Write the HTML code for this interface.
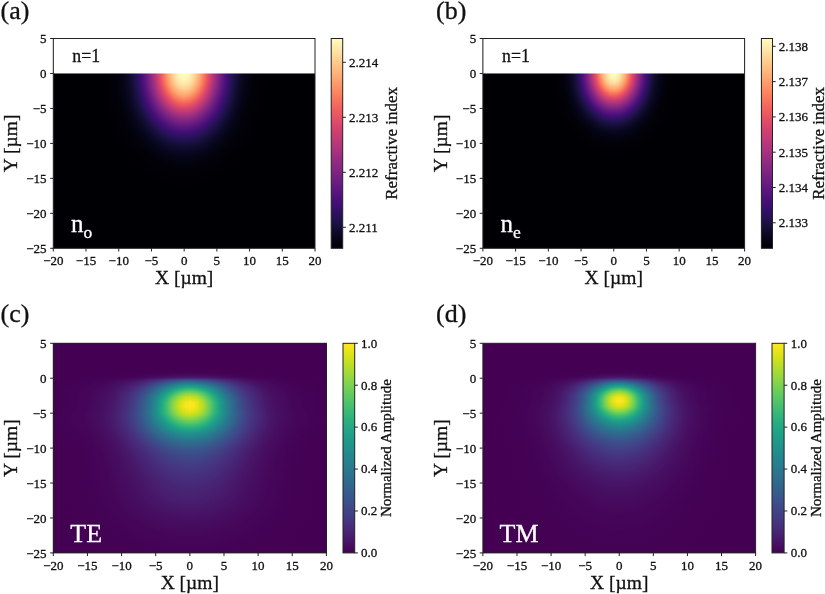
<!DOCTYPE html>
<html lang="en"><head><meta charset="utf-8"><title>Waveguide refractive index and mode profiles</title>
<style>html,body{margin:0;padding:0;background:#fff}svg{display:block}text{font-family:"Liberation Serif", "DejaVu Serif", serif;fill:#111;stroke:#111;stroke-width:.3px}</style></head><body>
<svg width="825" height="594" viewBox="0 0 825 594">
<rect width="825" height="594" fill="#fff"/>
<defs>
<filter id="vir" x="0" y="0" width="1" height="1" color-interpolation-filters="sRGB"><feComponentTransfer><feFuncR type="table" tableValues="0.2670 0.2726 0.2770 0.2803 0.2823 0.2832 0.2829 0.2814 0.2788 0.2752 0.2706 0.2651 0.2590 0.2522 0.2450 0.2374 0.2297 0.2220 0.2143 0.2068 0.1994 0.1924 0.1856 0.1790 0.1727 0.1666 0.1607 0.1548 0.1490 0.1433 0.1378 0.1324 0.1276 0.1235 0.1206 0.1194 0.1206 0.1248 0.1323 0.1433 0.1579 0.1757 0.1966 0.2201 0.2461 0.2741 0.3041 0.3359 0.3692 0.4040 0.4401 0.4775 0.5160 0.5555 0.5958 0.6369 0.6785 0.7204 0.7624 0.8042 0.8456 0.8863 0.9261 0.9649 0.9932"/><feFuncG type="table" tableValues="0.0049 0.0256 0.0503 0.0734 0.0950 0.1157 0.1359 0.1558 0.1755 0.1949 0.2141 0.2330 0.2515 0.2698 0.2877 0.3052 0.3224 0.3392 0.3556 0.3718 0.3876 0.4032 0.4186 0.4338 0.4488 0.4637 0.4785 0.4933 0.5081 0.5228 0.5375 0.5522 0.5669 0.5817 0.5964 0.6111 0.6258 0.6405 0.6550 0.6695 0.6838 0.6979 0.7118 0.7255 0.7389 0.7520 0.7647 0.7770 0.7889 0.8003 0.8111 0.8214 0.8312 0.8403 0.8487 0.8565 0.8637 0.8703 0.8764 0.8820 0.8873 0.8924 0.8973 0.9023 0.9062"/><feFuncB type="table" tableValues="0.3294 0.3531 0.3757 0.3972 0.4173 0.4361 0.4534 0.4692 0.4834 0.4960 0.5071 0.5166 0.5247 0.5316 0.5373 0.5419 0.5457 0.5488 0.5512 0.5531 0.5546 0.5558 0.5568 0.5574 0.5579 0.5581 0.5581 0.5578 0.5573 0.5563 0.5549 0.5530 0.5506 0.5474 0.5436 0.5390 0.5335 0.5271 0.5197 0.5112 0.5017 0.4910 0.4792 0.4662 0.4520 0.4366 0.4199 0.4020 0.3829 0.3626 0.3410 0.3182 0.2943 0.2693 0.2433 0.2166 0.1895 0.1626 0.1371 0.1150 0.0997 0.0954 0.1041 0.1239 0.1439"/></feComponentTransfer></filter>
<linearGradient id="pg" x1="0" x2="1" y1="0" y2="0"><stop offset="0.0000" stop-color="#000000"/><stop offset="0.0114" stop-color="#000000"/><stop offset="0.0227" stop-color="#000000"/><stop offset="0.0341" stop-color="#000000"/><stop offset="0.0455" stop-color="#000000"/><stop offset="0.0568" stop-color="#000000"/><stop offset="0.0682" stop-color="#000000"/><stop offset="0.0795" stop-color="#000000"/><stop offset="0.0909" stop-color="#010101"/><stop offset="0.1023" stop-color="#010101"/><stop offset="0.1136" stop-color="#010101"/><stop offset="0.1250" stop-color="#010101"/><stop offset="0.1364" stop-color="#010101"/><stop offset="0.1477" stop-color="#020202"/><stop offset="0.1591" stop-color="#020202"/><stop offset="0.1705" stop-color="#020202"/><stop offset="0.1818" stop-color="#030303"/><stop offset="0.1932" stop-color="#040404"/><stop offset="0.2045" stop-color="#040404"/><stop offset="0.2159" stop-color="#050505"/><stop offset="0.2273" stop-color="#070707"/><stop offset="0.2386" stop-color="#080808"/><stop offset="0.2500" stop-color="#0a0a0a"/><stop offset="0.2614" stop-color="#0c0c0c"/><stop offset="0.2727" stop-color="#0f0f0f"/><stop offset="0.2841" stop-color="#121212"/><stop offset="0.2955" stop-color="#171717"/><stop offset="0.3068" stop-color="#1c1c1c"/><stop offset="0.3182" stop-color="#222222"/><stop offset="0.3295" stop-color="#292929"/><stop offset="0.3409" stop-color="#313131"/><stop offset="0.3523" stop-color="#3b3b3b"/><stop offset="0.3636" stop-color="#474747"/><stop offset="0.3750" stop-color="#545454"/><stop offset="0.3864" stop-color="#646464"/><stop offset="0.3977" stop-color="#757575"/><stop offset="0.4091" stop-color="#888888"/><stop offset="0.4205" stop-color="#9c9c9c"/><stop offset="0.4318" stop-color="#b0b0b0"/><stop offset="0.4432" stop-color="#c4c4c4"/><stop offset="0.4545" stop-color="#d7d7d7"/><stop offset="0.4659" stop-color="#e7e7e7"/><stop offset="0.4773" stop-color="#f4f4f4"/><stop offset="0.4886" stop-color="#fcfcfc"/><stop offset="0.5000" stop-color="#ffffff"/><stop offset="0.5114" stop-color="#fcfcfc"/><stop offset="0.5227" stop-color="#f4f4f4"/><stop offset="0.5341" stop-color="#e7e7e7"/><stop offset="0.5455" stop-color="#d7d7d7"/><stop offset="0.5568" stop-color="#c4c4c4"/><stop offset="0.5682" stop-color="#b0b0b0"/><stop offset="0.5795" stop-color="#9c9c9c"/><stop offset="0.5909" stop-color="#888888"/><stop offset="0.6023" stop-color="#757575"/><stop offset="0.6136" stop-color="#646464"/><stop offset="0.6250" stop-color="#545454"/><stop offset="0.6364" stop-color="#474747"/><stop offset="0.6477" stop-color="#3b3b3b"/><stop offset="0.6591" stop-color="#313131"/><stop offset="0.6705" stop-color="#292929"/><stop offset="0.6818" stop-color="#222222"/><stop offset="0.6932" stop-color="#1c1c1c"/><stop offset="0.7045" stop-color="#171717"/><stop offset="0.7159" stop-color="#121212"/><stop offset="0.7273" stop-color="#0f0f0f"/><stop offset="0.7386" stop-color="#0c0c0c"/><stop offset="0.7500" stop-color="#0a0a0a"/><stop offset="0.7614" stop-color="#080808"/><stop offset="0.7727" stop-color="#070707"/><stop offset="0.7841" stop-color="#050505"/><stop offset="0.7955" stop-color="#040404"/><stop offset="0.8068" stop-color="#040404"/><stop offset="0.8182" stop-color="#030303"/><stop offset="0.8295" stop-color="#020202"/><stop offset="0.8409" stop-color="#020202"/><stop offset="0.8523" stop-color="#020202"/><stop offset="0.8636" stop-color="#010101"/><stop offset="0.8750" stop-color="#010101"/><stop offset="0.8864" stop-color="#010101"/><stop offset="0.8977" stop-color="#010101"/><stop offset="0.9091" stop-color="#010101"/><stop offset="0.9205" stop-color="#000000"/><stop offset="0.9318" stop-color="#000000"/><stop offset="0.9432" stop-color="#000000"/><stop offset="0.9545" stop-color="#000000"/><stop offset="0.9659" stop-color="#000000"/><stop offset="0.9773" stop-color="#000000"/><stop offset="0.9886" stop-color="#000000"/><stop offset="1.0000" stop-color="#000000"/></linearGradient>
<linearGradient id="pq" x1="0" x2="1" y1="0" y2="0"><stop offset="0.0000" stop-color="#000000"/><stop offset="0.0167" stop-color="#000000"/><stop offset="0.0333" stop-color="#010101"/><stop offset="0.0500" stop-color="#010101"/><stop offset="0.0667" stop-color="#020202"/><stop offset="0.0833" stop-color="#020202"/><stop offset="0.1000" stop-color="#030303"/><stop offset="0.1167" stop-color="#050505"/><stop offset="0.1333" stop-color="#070707"/><stop offset="0.1500" stop-color="#090909"/><stop offset="0.1667" stop-color="#0d0d0d"/><stop offset="0.1833" stop-color="#111111"/><stop offset="0.2000" stop-color="#161616"/><stop offset="0.2167" stop-color="#1d1d1d"/><stop offset="0.2333" stop-color="#252525"/><stop offset="0.2500" stop-color="#2f2f2f"/><stop offset="0.2667" stop-color="#3b3b3b"/><stop offset="0.2833" stop-color="#484848"/><stop offset="0.3000" stop-color="#565656"/><stop offset="0.3167" stop-color="#676767"/><stop offset="0.3333" stop-color="#787878"/><stop offset="0.3500" stop-color="#8b8b8b"/><stop offset="0.3667" stop-color="#9e9e9e"/><stop offset="0.3833" stop-color="#b0b0b0"/><stop offset="0.4000" stop-color="#c3c3c3"/><stop offset="0.4167" stop-color="#d3d3d3"/><stop offset="0.4333" stop-color="#e2e2e2"/><stop offset="0.4500" stop-color="#eeeeee"/><stop offset="0.4667" stop-color="#f7f7f7"/><stop offset="0.4833" stop-color="#fdfdfd"/><stop offset="0.5000" stop-color="#ffffff"/><stop offset="0.5167" stop-color="#fdfdfd"/><stop offset="0.5333" stop-color="#f7f7f7"/><stop offset="0.5500" stop-color="#eeeeee"/><stop offset="0.5667" stop-color="#e2e2e2"/><stop offset="0.5833" stop-color="#d3d3d3"/><stop offset="0.6000" stop-color="#c3c3c3"/><stop offset="0.6167" stop-color="#b0b0b0"/><stop offset="0.6333" stop-color="#9e9e9e"/><stop offset="0.6500" stop-color="#8b8b8b"/><stop offset="0.6667" stop-color="#787878"/><stop offset="0.6833" stop-color="#676767"/><stop offset="0.7000" stop-color="#565656"/><stop offset="0.7167" stop-color="#484848"/><stop offset="0.7333" stop-color="#3b3b3b"/><stop offset="0.7500" stop-color="#2f2f2f"/><stop offset="0.7667" stop-color="#252525"/><stop offset="0.7833" stop-color="#1d1d1d"/><stop offset="0.8000" stop-color="#161616"/><stop offset="0.8167" stop-color="#111111"/><stop offset="0.8333" stop-color="#0d0d0d"/><stop offset="0.8500" stop-color="#090909"/><stop offset="0.8667" stop-color="#070707"/><stop offset="0.8833" stop-color="#050505"/><stop offset="0.9000" stop-color="#030303"/><stop offset="0.9167" stop-color="#020202"/><stop offset="0.9333" stop-color="#020202"/><stop offset="0.9500" stop-color="#010101"/><stop offset="0.9667" stop-color="#010101"/><stop offset="0.9833" stop-color="#000000"/><stop offset="1.0000" stop-color="#000000"/></linearGradient>
<linearGradient id="cbm" x1="0" x2="0" y1="0" y2="1"><stop offset="0.0000" stop-color="#fcfdbf"/><stop offset="0.0312" stop-color="#fcf0b2"/><stop offset="0.0625" stop-color="#fde2a3"/><stop offset="0.0938" stop-color="#fed395"/><stop offset="0.1250" stop-color="#fec488"/><stop offset="0.1562" stop-color="#feb67c"/><stop offset="0.1875" stop-color="#fea772"/><stop offset="0.2188" stop-color="#fd9869"/><stop offset="0.2500" stop-color="#fc8961"/><stop offset="0.2812" stop-color="#f9795d"/><stop offset="0.3125" stop-color="#f56b5c"/><stop offset="0.3438" stop-color="#ef5d5e"/><stop offset="0.3750" stop-color="#e75263"/><stop offset="0.4062" stop-color="#dc4869"/><stop offset="0.4375" stop-color="#d0416f"/><stop offset="0.4688" stop-color="#c43c75"/><stop offset="0.5000" stop-color="#b73779"/><stop offset="0.5312" stop-color="#aa337d"/><stop offset="0.5625" stop-color="#9c2e7f"/><stop offset="0.5938" stop-color="#902a81"/><stop offset="0.6250" stop-color="#832681"/><stop offset="0.6562" stop-color="#762181"/><stop offset="0.6875" stop-color="#6a1c81"/><stop offset="0.7188" stop-color="#5d177f"/><stop offset="0.7500" stop-color="#51127c"/><stop offset="0.7812" stop-color="#440f76"/><stop offset="0.8125" stop-color="#36106b"/><stop offset="0.8438" stop-color="#29115a"/><stop offset="0.8750" stop-color="#1d1147"/><stop offset="0.9062" stop-color="#130d34"/><stop offset="0.9375" stop-color="#0a0822"/><stop offset="0.9688" stop-color="#030312"/><stop offset="1.0000" stop-color="#000004"/></linearGradient>
<linearGradient id="cbv" x1="0" x2="0" y1="0" y2="1"><stop offset="0.0000" stop-color="#fde725"/><stop offset="0.0312" stop-color="#ece51b"/><stop offset="0.0625" stop-color="#d8e219"/><stop offset="0.0938" stop-color="#c2df23"/><stop offset="0.1250" stop-color="#addc30"/><stop offset="0.1562" stop-color="#98d83e"/><stop offset="0.1875" stop-color="#84d44b"/><stop offset="0.2188" stop-color="#70cf57"/><stop offset="0.2500" stop-color="#5ec962"/><stop offset="0.2812" stop-color="#4ec36b"/><stop offset="0.3125" stop-color="#3fbc73"/><stop offset="0.3438" stop-color="#32b67a"/><stop offset="0.3750" stop-color="#28ae80"/><stop offset="0.4062" stop-color="#22a785"/><stop offset="0.4375" stop-color="#1fa088"/><stop offset="0.4688" stop-color="#1f988b"/><stop offset="0.5000" stop-color="#21918c"/><stop offset="0.5312" stop-color="#23898e"/><stop offset="0.5625" stop-color="#26828e"/><stop offset="0.5938" stop-color="#297a8e"/><stop offset="0.6250" stop-color="#2c728e"/><stop offset="0.6562" stop-color="#2f6b8e"/><stop offset="0.6875" stop-color="#33638d"/><stop offset="0.7188" stop-color="#375b8d"/><stop offset="0.7500" stop-color="#3b528b"/><stop offset="0.7812" stop-color="#3e4989"/><stop offset="0.8125" stop-color="#424086"/><stop offset="0.8438" stop-color="#453781"/><stop offset="0.8750" stop-color="#472d7b"/><stop offset="0.9062" stop-color="#482374"/><stop offset="0.9375" stop-color="#48186a"/><stop offset="0.9688" stop-color="#470d60"/><stop offset="1.0000" stop-color="#440154"/></linearGradient>
<radialGradient id="ra" cx="0" cy="0" r="1" gradientUnits="userSpaceOnUse"><stop offset="0.0000" stop-color="#fcfdbf"/><stop offset="0.0250" stop-color="#fcfbbd"/><stop offset="0.0500" stop-color="#fcf6b8"/><stop offset="0.0750" stop-color="#fcecae"/><stop offset="0.1000" stop-color="#fde0a1"/><stop offset="0.1250" stop-color="#fecf92"/><stop offset="0.1500" stop-color="#febb81"/><stop offset="0.1750" stop-color="#fea772"/><stop offset="0.2000" stop-color="#fc8e64"/><stop offset="0.2250" stop-color="#f8745c"/><stop offset="0.2500" stop-color="#ee5b5e"/><stop offset="0.2750" stop-color="#de4968"/><stop offset="0.3000" stop-color="#c83e73"/><stop offset="0.3250" stop-color="#b2357b"/><stop offset="0.3500" stop-color="#9b2e7f"/><stop offset="0.3750" stop-color="#862781"/><stop offset="0.4000" stop-color="#732081"/><stop offset="0.4250" stop-color="#621980"/><stop offset="0.4500" stop-color="#52137c"/><stop offset="0.4750" stop-color="#420f75"/><stop offset="0.5000" stop-color="#341069"/><stop offset="0.5250" stop-color="#271258"/><stop offset="0.5500" stop-color="#1e1149"/><stop offset="0.5750" stop-color="#160f3b"/><stop offset="0.6000" stop-color="#110c2f"/><stop offset="0.6250" stop-color="#0c0926"/><stop offset="0.6500" stop-color="#08071e"/><stop offset="0.6750" stop-color="#060518"/><stop offset="0.7000" stop-color="#040414"/><stop offset="0.7250" stop-color="#03030f"/><stop offset="0.7500" stop-color="#02020b"/><stop offset="0.7750" stop-color="#020109"/><stop offset="0.8000" stop-color="#010108"/><stop offset="0.8250" stop-color="#010106"/><stop offset="0.8500" stop-color="#010005"/><stop offset="0.8750" stop-color="#010005"/><stop offset="0.9000" stop-color="#010005"/><stop offset="0.9250" stop-color="#000004"/><stop offset="0.9500" stop-color="#000004"/><stop offset="0.9750" stop-color="#000004"/><stop offset="1.0000" stop-color="#000004"/></radialGradient>
<radialGradient id="rb" cx="0" cy="0" r="1" gradientUnits="userSpaceOnUse"><stop offset="0.0000" stop-color="#fcfdbf"/><stop offset="0.0250" stop-color="#fcfbbd"/><stop offset="0.0500" stop-color="#fcf6b8"/><stop offset="0.0750" stop-color="#fcecae"/><stop offset="0.1000" stop-color="#fde0a1"/><stop offset="0.1250" stop-color="#fecf92"/><stop offset="0.1500" stop-color="#febb81"/><stop offset="0.1750" stop-color="#fea772"/><stop offset="0.2000" stop-color="#fc8e64"/><stop offset="0.2250" stop-color="#f8745c"/><stop offset="0.2500" stop-color="#ee5b5e"/><stop offset="0.2750" stop-color="#de4968"/><stop offset="0.3000" stop-color="#c83e73"/><stop offset="0.3250" stop-color="#b2357b"/><stop offset="0.3500" stop-color="#9b2e7f"/><stop offset="0.3750" stop-color="#862781"/><stop offset="0.4000" stop-color="#732081"/><stop offset="0.4250" stop-color="#621980"/><stop offset="0.4500" stop-color="#52137c"/><stop offset="0.4750" stop-color="#420f75"/><stop offset="0.5000" stop-color="#341069"/><stop offset="0.5250" stop-color="#271258"/><stop offset="0.5500" stop-color="#1e1149"/><stop offset="0.5750" stop-color="#160f3b"/><stop offset="0.6000" stop-color="#110c2f"/><stop offset="0.6250" stop-color="#0c0926"/><stop offset="0.6500" stop-color="#08071e"/><stop offset="0.6750" stop-color="#060518"/><stop offset="0.7000" stop-color="#040414"/><stop offset="0.7250" stop-color="#03030f"/><stop offset="0.7500" stop-color="#02020b"/><stop offset="0.7750" stop-color="#020109"/><stop offset="0.8000" stop-color="#010108"/><stop offset="0.8250" stop-color="#010106"/><stop offset="0.8500" stop-color="#010005"/><stop offset="0.8750" stop-color="#010005"/><stop offset="0.9000" stop-color="#010005"/><stop offset="0.9250" stop-color="#000004"/><stop offset="0.9500" stop-color="#000004"/><stop offset="0.9750" stop-color="#000004"/><stop offset="1.0000" stop-color="#000004"/></radialGradient>
</defs>
<g>
<clipPath id="clipa"><rect x="53.30" y="38.50" width="261.70" height="209.80"/></clipPath>
<g clip-path="url(#clipa)"><rect x="52.30" y="37.50" width="263.70" height="211.80" fill="#000004"/>
<ellipse cx="0" cy="0" rx="1" ry="1" transform="translate(184.15 73.47) scale(90.16 123.64)" fill="url(#ra)"/>
<rect x="52.30" y="37.50" width="263.70" height="35.97" fill="#fff"/></g>
<rect x="53.30" y="38.50" width="261.70" height="209.80" fill="none" stroke="#222" stroke-width="1"/>
<path d="M53.30 248.30v3.2M86.01 248.30v3.2M118.72 248.30v3.2M151.44 248.30v3.2M184.15 248.30v3.2M216.86 248.30v3.2M249.57 248.30v3.2M282.29 248.30v3.2M315.00 248.30v3.2M53.30 38.50h-3.2M53.30 73.47h-3.2M53.30 108.43h-3.2M53.30 143.40h-3.2M53.30 178.37h-3.2M53.30 213.33h-3.2M53.30 248.30h-3.2" stroke="#222" stroke-width="1" fill="none"/>
<g font-size="13" text-anchor="middle">
<text x="53.30" y="265.00">−20</text>
<text x="86.01" y="265.00">−15</text>
<text x="118.72" y="265.00">−10</text>
<text x="151.44" y="265.00">−5</text>
<text x="184.15" y="265.00">0</text>
<text x="216.86" y="265.00">5</text>
<text x="249.57" y="265.00">10</text>
<text x="282.29" y="265.00">15</text>
<text x="315.00" y="265.00">20</text>
</g><g font-size="13" text-anchor="end">
<text x="46.60" y="43.30">5</text>
<text x="46.60" y="78.27">0</text>
<text x="46.60" y="113.23">−5</text>
<text x="46.60" y="148.20">−10</text>
<text x="46.60" y="183.17">−15</text>
<text x="46.60" y="218.13">−20</text>
<text x="46.60" y="253.10">−25</text>
</g>
<text x="184.15" y="284.40" font-size="19.5" text-anchor="middle">X [µm]</text>
<text transform="translate(17.00 143.40) rotate(-90)" font-size="19.5" text-anchor="middle">Y [µm]</text>
<rect x="331.20" y="38.50" width="11.50" height="209.80" fill="url(#cbm)" stroke="#222" stroke-width="1"/>
<path d="M342.70 62.30h3.2M342.70 117.30h3.2M342.70 172.30h3.2M342.70 227.30h3.2" stroke="#222" stroke-width="1" fill="none"/>
<g font-size="13">
<text x="349.00" y="66.60">2.214</text>
<text x="349.00" y="121.60">2.213</text>
<text x="349.00" y="176.60">2.212</text>
<text x="349.00" y="231.60">2.211</text>
</g>
<text transform="translate(396.50 143.40) rotate(-90)" font-size="17" text-anchor="middle">Refractive index</text>
<text x="0.50" y="19.00" font-size="26">(a)</text>
</g>
<g>
<clipPath id="clipb"><rect x="482.90" y="38.50" width="261.70" height="209.80"/></clipPath>
<g clip-path="url(#clipb)"><rect x="481.90" y="37.50" width="263.70" height="211.80" fill="#000004"/>
<ellipse cx="0" cy="0" rx="1" ry="1" transform="translate(613.75 73.47) scale(68.04 90.00)" fill="url(#rb)"/>
<rect x="481.90" y="37.50" width="263.70" height="35.97" fill="#fff"/></g>
<rect x="482.90" y="38.50" width="261.70" height="209.80" fill="none" stroke="#222" stroke-width="1"/>
<path d="M482.90 248.30v3.2M515.61 248.30v3.2M548.33 248.30v3.2M581.04 248.30v3.2M613.75 248.30v3.2M646.46 248.30v3.2M679.17 248.30v3.2M711.89 248.30v3.2M744.60 248.30v3.2M482.90 38.50h-3.2M482.90 73.47h-3.2M482.90 108.43h-3.2M482.90 143.40h-3.2M482.90 178.37h-3.2M482.90 213.33h-3.2M482.90 248.30h-3.2" stroke="#222" stroke-width="1" fill="none"/>
<g font-size="13" text-anchor="middle">
<text x="482.90" y="265.00">−20</text>
<text x="515.61" y="265.00">−15</text>
<text x="548.33" y="265.00">−10</text>
<text x="581.04" y="265.00">−5</text>
<text x="613.75" y="265.00">0</text>
<text x="646.46" y="265.00">5</text>
<text x="679.17" y="265.00">10</text>
<text x="711.89" y="265.00">15</text>
<text x="744.60" y="265.00">20</text>
</g><g font-size="13" text-anchor="end">
<text x="476.20" y="43.30">5</text>
<text x="476.20" y="78.27">0</text>
<text x="476.20" y="113.23">−5</text>
<text x="476.20" y="148.20">−10</text>
<text x="476.20" y="183.17">−15</text>
<text x="476.20" y="218.13">−20</text>
<text x="476.20" y="253.10">−25</text>
</g>
<text x="613.75" y="284.40" font-size="19.5" text-anchor="middle">X [µm]</text>
<text transform="translate(446.60 143.40) rotate(-90)" font-size="19.5" text-anchor="middle">Y [µm]</text>
<rect x="761.40" y="38.50" width="11.10" height="209.80" fill="url(#cbm)" stroke="#222" stroke-width="1"/>
<path d="M772.50 46.30h3.2M772.50 81.60h3.2M772.50 116.90h3.2M772.50 152.20h3.2M772.50 187.50h3.2M772.50 222.80h3.2" stroke="#222" stroke-width="1" fill="none"/>
<g font-size="13">
<text x="778.70" y="50.60">2.138</text>
<text x="778.70" y="85.90">2.137</text>
<text x="778.70" y="121.20">2.136</text>
<text x="778.70" y="156.50">2.135</text>
<text x="778.70" y="191.80">2.134</text>
<text x="778.70" y="227.10">2.133</text>
</g>
<text transform="translate(824.00 143.40) rotate(-90)" font-size="17" text-anchor="middle">Refractive index</text>
<text x="436.00" y="19.00" font-size="26">(b)</text>
</g>
<g>
<clipPath id="clipc"><rect x="53.30" y="343.30" width="273.10" height="209.60"/></clipPath>
<g clip-path="url(#clipc)" filter="url(#vir)">
<rect x="52.30" y="342.30" width="275.10" height="211.60" fill="#000"/>
<g fill="url(#pg)"><rect x="17.1" y="369" width="345.5" height="1" opacity="0.003"/><rect x="17.1" y="370" width="345.5" height="1" opacity="0.004"/><rect x="17.1" y="371" width="345.5" height="1" opacity="0.006"/><rect x="17.1" y="372" width="345.5" height="1" opacity="0.010"/><rect x="17.1" y="373" width="345.5" height="1" opacity="0.014"/><rect x="17.1" y="374" width="345.5" height="1" opacity="0.022"/><rect x="17.1" y="375" width="345.5" height="1" opacity="0.033"/><rect x="17.1" y="376" width="345.5" height="1" opacity="0.049"/><rect x="17.1" y="377" width="345.5" height="1" opacity="0.074"/><rect x="17.1" y="378" width="345.5" height="1" opacity="0.126"/><rect x="17.1" y="379" width="345.5" height="1" opacity="0.197"/><rect x="17.1" y="380" width="345.5" height="1" opacity="0.259"/><rect x="17.1" y="381" width="345.5" height="1" opacity="0.317"/><rect x="17.1" y="382" width="345.5" height="1" opacity="0.371"/><rect x="17.1" y="383" width="345.5" height="1" opacity="0.422"/><rect x="17.1" y="384" width="345.5" height="1" opacity="0.472"/><rect x="17.1" y="385" width="345.5" height="1" opacity="0.519"/><rect x="17.1" y="386" width="345.5" height="1" opacity="0.564"/><rect x="17.1" y="387" width="345.5" height="1" opacity="0.607"/><rect x="17.1" y="388" width="345.5" height="1" opacity="0.648"/><rect x="17.1" y="389" width="345.5" height="1" opacity="0.687"/><rect x="17.1" y="390" width="345.5" height="1" opacity="0.724"/><rect x="17.1" y="391" width="345.5" height="1" opacity="0.758"/><rect x="17.1" y="392" width="345.5" height="1" opacity="0.791"/><rect x="17.1" y="393" width="345.5" height="1" opacity="0.821"/><rect x="17.1" y="394" width="345.5" height="1" opacity="0.849"/><rect x="17.1" y="395" width="345.5" height="1" opacity="0.875"/><rect x="17.1" y="396" width="345.5" height="1" opacity="0.899"/><rect x="17.1" y="397" width="345.5" height="1" opacity="0.920"/><rect x="17.1" y="398" width="345.5" height="1" opacity="0.938"/><rect x="17.1" y="399" width="345.5" height="1" opacity="0.955"/><rect x="17.1" y="400" width="345.5" height="1" opacity="0.969"/><rect x="17.1" y="401" width="345.5" height="1" opacity="0.980"/><rect x="17.1" y="402" width="345.5" height="1" opacity="0.989"/><rect x="17.1" y="403" width="345.5" height="1" opacity="0.995"/><rect x="17.1" y="404" width="345.5" height="1" opacity="0.999"/><rect x="17.1" y="405" width="345.5" height="1" opacity="1.000"/><rect x="16.1" y="406" width="347.5" height="1" opacity="0.998"/><rect x="15.1" y="407" width="349.5" height="1" opacity="0.994"/><rect x="14.1" y="408" width="351.4" height="1" opacity="0.988"/><rect x="13.1" y="409" width="353.4" height="1" opacity="0.979"/><rect x="12.2" y="410" width="355.4" height="1" opacity="0.969"/><rect x="11.2" y="411" width="357.4" height="1" opacity="0.958"/><rect x="10.2" y="412" width="359.4" height="1" opacity="0.947"/><rect x="9.2" y="413" width="361.3" height="1" opacity="0.932"/><rect x="8.2" y="414" width="363.3" height="1" opacity="0.912"/><rect x="7.2" y="415" width="365.3" height="1" opacity="0.889"/><rect x="6.2" y="416" width="367.3" height="1" opacity="0.863"/><rect x="5.2" y="417" width="369.2" height="1" opacity="0.835"/><rect x="4.2" y="418" width="371.2" height="1" opacity="0.807"/><rect x="3.3" y="419" width="373.2" height="1" opacity="0.779"/><rect x="2.3" y="420" width="375.2" height="1" opacity="0.749"/><rect x="1.3" y="421" width="377.2" height="1" opacity="0.717"/><rect x="0.3" y="422" width="379.1" height="1" opacity="0.685"/><rect x="-0.7" y="423" width="381.1" height="1" opacity="0.651"/><rect x="-1.7" y="424" width="383.1" height="1" opacity="0.616"/><rect x="-2.7" y="425" width="385.1" height="1" opacity="0.580"/><rect x="-3.7" y="426" width="387.0" height="1" opacity="0.544"/><rect x="-4.7" y="427" width="389.0" height="1" opacity="0.508"/><rect x="-5.6" y="428" width="391.0" height="1" opacity="0.471"/><rect x="-6.6" y="429" width="393.0" height="1" opacity="0.433"/><rect x="-7.6" y="430" width="395.0" height="1" opacity="0.396"/><rect x="-8.6" y="431" width="396.9" height="1" opacity="0.359"/><rect x="-9.6" y="432" width="398.9" height="1" opacity="0.324"/><rect x="-10.6" y="433" width="400.9" height="1" opacity="0.291"/><rect x="-11.6" y="434" width="402.9" height="1" opacity="0.259"/><rect x="-12.6" y="435" width="404.8" height="1" opacity="0.230"/><rect x="-13.6" y="436" width="406.8" height="1" opacity="0.202"/><rect x="-14.6" y="437" width="408.8" height="1" opacity="0.177"/><rect x="-15.5" y="438" width="410.8" height="1" opacity="0.153"/><rect x="-16.5" y="439" width="412.8" height="1" opacity="0.131"/><rect x="-17.5" y="440" width="414.7" height="1" opacity="0.111"/><rect x="-18.5" y="441" width="416.7" height="1" opacity="0.093"/><rect x="-19.5" y="442" width="418.7" height="1" opacity="0.077"/><rect x="-20.5" y="443" width="420.7" height="1" opacity="0.062"/><rect x="-21.5" y="444" width="422.6" height="1" opacity="0.050"/><rect x="-22.5" y="445" width="424.6" height="1" opacity="0.039"/><rect x="-23.5" y="446" width="426.6" height="1" opacity="0.030"/><rect x="-24.4" y="447" width="428.6" height="1" opacity="0.022"/><rect x="-25.4" y="448" width="430.6" height="1" opacity="0.016"/><rect x="-26.4" y="449" width="432.5" height="1" opacity="0.010"/><rect x="-27.4" y="450" width="434.5" height="1" opacity="0.006"/><rect x="-28.4" y="451" width="436.5" height="1" opacity="0.003"/></g>
<g fill="url(#pq)"><rect x="61.5" y="407" width="256.6" height="1" opacity="0.005"/><rect x="61.3" y="408" width="257.2" height="1" opacity="0.011"/><rect x="61.0" y="409" width="257.7" height="1" opacity="0.019"/><rect x="60.8" y="410" width="258.2" height="1" opacity="0.029"/><rect x="60.5" y="411" width="258.7" height="1" opacity="0.040"/><rect x="60.3" y="412" width="259.2" height="1" opacity="0.053"/><rect x="60.0" y="413" width="259.7" height="1" opacity="0.067"/><rect x="59.7" y="414" width="260.2" height="1" opacity="0.082"/><rect x="59.5" y="415" width="260.7" height="1" opacity="0.098"/><rect x="59.2" y="416" width="261.2" height="1" opacity="0.114"/><rect x="59.0" y="417" width="261.7" height="1" opacity="0.130"/><rect x="58.7" y="418" width="262.2" height="1" opacity="0.146"/><rect x="58.5" y="419" width="262.7" height="1" opacity="0.162"/><rect x="58.2" y="420" width="263.3" height="1" opacity="0.179"/><rect x="58.0" y="421" width="263.8" height="1" opacity="0.194"/><rect x="57.7" y="422" width="264.3" height="1" opacity="0.209"/><rect x="57.5" y="423" width="264.8" height="1" opacity="0.224"/><rect x="57.2" y="424" width="265.3" height="1" opacity="0.238"/><rect x="57.0" y="425" width="265.8" height="1" opacity="0.251"/><rect x="56.7" y="426" width="266.3" height="1" opacity="0.262"/><rect x="56.4" y="427" width="266.8" height="1" opacity="0.273"/><rect x="56.2" y="428" width="267.3" height="1" opacity="0.283"/><rect x="55.9" y="429" width="267.8" height="1" opacity="0.291"/><rect x="55.7" y="430" width="268.3" height="1" opacity="0.298"/><rect x="55.4" y="431" width="268.8" height="1" opacity="0.303"/><rect x="55.2" y="432" width="269.4" height="1" opacity="0.308"/><rect x="54.9" y="433" width="269.9" height="1" opacity="0.311"/><rect x="54.7" y="434" width="270.4" height="1" opacity="0.314"/><rect x="54.4" y="435" width="270.9" height="1" opacity="0.316"/><rect x="54.2" y="436" width="271.4" height="1" opacity="0.317"/><rect x="53.9" y="437" width="271.9" height="1" opacity="0.317"/><rect x="53.6" y="438" width="272.4" height="1" opacity="0.317"/><rect x="53.4" y="439" width="272.9" height="1" opacity="0.315"/><rect x="53.1" y="440" width="273.4" height="1" opacity="0.313"/><rect x="52.9" y="441" width="273.9" height="1" opacity="0.309"/><rect x="52.6" y="442" width="274.4" height="1" opacity="0.306"/><rect x="52.4" y="443" width="274.9" height="1" opacity="0.301"/><rect x="52.1" y="444" width="275.4" height="1" opacity="0.296"/><rect x="51.9" y="445" width="276.0" height="1" opacity="0.291"/><rect x="51.6" y="446" width="276.5" height="1" opacity="0.285"/><rect x="51.4" y="447" width="277.0" height="1" opacity="0.279"/><rect x="51.1" y="448" width="277.5" height="1" opacity="0.273"/><rect x="50.9" y="449" width="278.0" height="1" opacity="0.267"/><rect x="50.6" y="450" width="278.5" height="1" opacity="0.260"/><rect x="50.3" y="451" width="279.0" height="1" opacity="0.254"/><rect x="50.1" y="452" width="279.5" height="1" opacity="0.247"/><rect x="49.8" y="453" width="280.0" height="1" opacity="0.241"/><rect x="49.6" y="454" width="280.5" height="1" opacity="0.234"/><rect x="49.3" y="455" width="281.0" height="1" opacity="0.227"/><rect x="49.1" y="456" width="281.5" height="1" opacity="0.221"/><rect x="48.8" y="457" width="282.1" height="1" opacity="0.215"/><rect x="48.6" y="458" width="282.6" height="1" opacity="0.210"/><rect x="48.3" y="459" width="283.1" height="1" opacity="0.204"/><rect x="48.1" y="460" width="283.6" height="1" opacity="0.199"/><rect x="47.8" y="461" width="284.1" height="1" opacity="0.194"/><rect x="47.6" y="462" width="284.6" height="1" opacity="0.189"/><rect x="47.3" y="463" width="285.1" height="1" opacity="0.185"/><rect x="47.0" y="464" width="285.6" height="1" opacity="0.180"/><rect x="46.8" y="465" width="286.1" height="1" opacity="0.176"/><rect x="46.5" y="466" width="286.6" height="1" opacity="0.172"/><rect x="46.3" y="467" width="287.1" height="1" opacity="0.168"/><rect x="46.0" y="468" width="287.6" height="1" opacity="0.164"/><rect x="45.8" y="469" width="288.2" height="1" opacity="0.160"/><rect x="45.5" y="470" width="288.7" height="1" opacity="0.156"/><rect x="45.3" y="471" width="289.2" height="1" opacity="0.153"/><rect x="45.0" y="472" width="289.7" height="1" opacity="0.149"/><rect x="44.8" y="473" width="290.2" height="1" opacity="0.146"/><rect x="44.5" y="474" width="290.7" height="1" opacity="0.143"/><rect x="44.2" y="475" width="291.2" height="1" opacity="0.140"/><rect x="44.0" y="476" width="291.7" height="1" opacity="0.137"/><rect x="43.7" y="477" width="292.2" height="1" opacity="0.134"/><rect x="43.5" y="478" width="292.7" height="1" opacity="0.131"/><rect x="43.2" y="479" width="293.2" height="1" opacity="0.128"/><rect x="43.0" y="480" width="293.7" height="1" opacity="0.125"/><rect x="42.7" y="481" width="294.3" height="1" opacity="0.122"/><rect x="42.5" y="482" width="294.8" height="1" opacity="0.120"/><rect x="42.2" y="483" width="295.3" height="1" opacity="0.117"/><rect x="42.0" y="484" width="295.8" height="1" opacity="0.114"/><rect x="41.7" y="485" width="296.3" height="1" opacity="0.112"/><rect x="41.5" y="486" width="296.8" height="1" opacity="0.110"/><rect x="41.2" y="487" width="297.3" height="1" opacity="0.108"/><rect x="40.9" y="488" width="297.8" height="1" opacity="0.106"/><rect x="40.7" y="489" width="298.3" height="1" opacity="0.104"/><rect x="40.4" y="490" width="298.8" height="1" opacity="0.102"/><rect x="40.2" y="491" width="299.3" height="1" opacity="0.100"/><rect x="39.9" y="492" width="299.8" height="1" opacity="0.098"/><rect x="39.7" y="493" width="300.3" height="1" opacity="0.096"/><rect x="39.4" y="494" width="300.9" height="1" opacity="0.094"/><rect x="39.2" y="495" width="301.4" height="1" opacity="0.092"/><rect x="38.9" y="496" width="301.9" height="1" opacity="0.090"/><rect x="38.7" y="497" width="302.4" height="1" opacity="0.088"/><rect x="38.4" y="498" width="302.9" height="1" opacity="0.086"/><rect x="38.2" y="499" width="303.4" height="1" opacity="0.084"/><rect x="37.9" y="500" width="303.9" height="1" opacity="0.082"/><rect x="37.6" y="501" width="304.4" height="1" opacity="0.079"/><rect x="37.4" y="502" width="304.9" height="1" opacity="0.077"/><rect x="37.1" y="503" width="305.4" height="1" opacity="0.075"/><rect x="36.9" y="504" width="305.9" height="1" opacity="0.073"/><rect x="36.6" y="505" width="306.4" height="1" opacity="0.070"/><rect x="36.4" y="506" width="307.0" height="1" opacity="0.068"/><rect x="36.1" y="507" width="307.5" height="1" opacity="0.066"/><rect x="35.9" y="508" width="308.0" height="1" opacity="0.063"/><rect x="35.6" y="509" width="308.5" height="1" opacity="0.061"/><rect x="35.4" y="510" width="309.0" height="1" opacity="0.059"/><rect x="35.1" y="511" width="309.5" height="1" opacity="0.057"/><rect x="34.8" y="512" width="310.0" height="1" opacity="0.054"/><rect x="34.6" y="513" width="310.5" height="1" opacity="0.052"/><rect x="34.3" y="514" width="311.0" height="1" opacity="0.050"/><rect x="34.1" y="515" width="311.5" height="1" opacity="0.048"/><rect x="33.8" y="516" width="312.0" height="1" opacity="0.046"/><rect x="33.6" y="517" width="312.5" height="1" opacity="0.044"/><rect x="33.3" y="518" width="313.1" height="1" opacity="0.042"/><rect x="33.1" y="519" width="313.6" height="1" opacity="0.040"/><rect x="32.8" y="520" width="314.1" height="1" opacity="0.038"/><rect x="32.6" y="521" width="314.6" height="1" opacity="0.036"/><rect x="32.3" y="522" width="315.1" height="1" opacity="0.035"/><rect x="32.1" y="523" width="315.6" height="1" opacity="0.033"/><rect x="31.8" y="524" width="316.1" height="1" opacity="0.031"/><rect x="31.5" y="525" width="316.6" height="1" opacity="0.030"/><rect x="31.3" y="526" width="317.1" height="1" opacity="0.029"/><rect x="31.0" y="527" width="317.6" height="1" opacity="0.027"/><rect x="30.8" y="528" width="318.1" height="1" opacity="0.026"/><rect x="30.5" y="529" width="318.6" height="1" opacity="0.025"/><rect x="30.3" y="530" width="319.2" height="1" opacity="0.023"/><rect x="30.0" y="531" width="319.7" height="1" opacity="0.022"/><rect x="29.8" y="532" width="320.2" height="1" opacity="0.021"/><rect x="29.5" y="533" width="320.7" height="1" opacity="0.020"/><rect x="29.3" y="534" width="321.2" height="1" opacity="0.019"/><rect x="29.0" y="535" width="321.7" height="1" opacity="0.018"/><rect x="28.8" y="536" width="322.2" height="1" opacity="0.017"/><rect x="28.5" y="537" width="322.7" height="1" opacity="0.016"/><rect x="28.2" y="538" width="323.2" height="1" opacity="0.015"/><rect x="28.0" y="539" width="323.7" height="1" opacity="0.014"/><rect x="27.7" y="540" width="324.2" height="1" opacity="0.013"/><rect x="27.5" y="541" width="324.7" height="1" opacity="0.013"/><rect x="27.2" y="542" width="325.2" height="1" opacity="0.012"/><rect x="27.0" y="543" width="325.8" height="1" opacity="0.011"/><rect x="26.7" y="544" width="326.3" height="1" opacity="0.010"/><rect x="26.5" y="545" width="326.8" height="1" opacity="0.010"/><rect x="26.2" y="546" width="327.3" height="1" opacity="0.009"/><rect x="26.0" y="547" width="327.8" height="1" opacity="0.009"/><rect x="25.7" y="548" width="328.3" height="1" opacity="0.008"/><rect x="25.4" y="549" width="328.8" height="1" opacity="0.008"/><rect x="25.2" y="550" width="329.3" height="1" opacity="0.007"/><rect x="24.9" y="551" width="329.8" height="1" opacity="0.007"/><rect x="24.7" y="552" width="330.3" height="1" opacity="0.006"/></g>
</g>
<rect x="53.30" y="343.30" width="273.10" height="209.60" fill="none" stroke="#222" stroke-width="1"/>
<path d="M53.30 552.90v3.2M87.44 552.90v3.2M121.57 552.90v3.2M155.71 552.90v3.2M189.85 552.90v3.2M223.99 552.90v3.2M258.12 552.90v3.2M292.26 552.90v3.2M326.40 552.90v3.2M53.30 343.30h-3.2M53.30 378.23h-3.2M53.30 413.17h-3.2M53.30 448.10h-3.2M53.30 483.03h-3.2M53.30 517.97h-3.2M53.30 552.90h-3.2" stroke="#222" stroke-width="1" fill="none"/>
<g font-size="13" text-anchor="middle">
<text x="53.30" y="569.60">−20</text>
<text x="87.44" y="569.60">−15</text>
<text x="121.57" y="569.60">−10</text>
<text x="155.71" y="569.60">−5</text>
<text x="189.85" y="569.60">0</text>
<text x="223.99" y="569.60">5</text>
<text x="258.12" y="569.60">10</text>
<text x="292.26" y="569.60">15</text>
<text x="326.40" y="569.60">20</text>
</g><g font-size="13" text-anchor="end">
<text x="46.60" y="348.10">5</text>
<text x="46.60" y="383.03">0</text>
<text x="46.60" y="417.97">−5</text>
<text x="46.60" y="452.90">−10</text>
<text x="46.60" y="487.83">−15</text>
<text x="46.60" y="522.77">−20</text>
<text x="46.60" y="557.70">−25</text>
</g>
<text x="189.85" y="589.00" font-size="19.5" text-anchor="middle">X [µm]</text>
<text transform="translate(17.00 448.10) rotate(-90)" font-size="19.5" text-anchor="middle">Y [µm]</text>
<rect x="343.00" y="343.30" width="11.70" height="209.60" fill="url(#cbv)" stroke="#222" stroke-width="1"/>
<path d="M354.70 343.30h3.2M354.70 385.22h3.2M354.70 427.14h3.2M354.70 469.06h3.2M354.70 510.98h3.2M354.70 552.90h3.2" stroke="#222" stroke-width="1" fill="none"/>
<g font-size="13">
<text x="361.00" y="347.60">1.0</text>
<text x="361.00" y="389.52">0.8</text>
<text x="361.00" y="431.44">0.6</text>
<text x="361.00" y="473.36">0.4</text>
<text x="361.00" y="515.28">0.2</text>
<text x="361.00" y="557.20">0.0</text>
</g>
<text transform="translate(391.20 448.10) rotate(-90)" font-size="15" text-anchor="middle">Normalized Amplitude</text>
<text x="0.50" y="322.30" font-size="26">(c)</text>
</g>
<g>
<clipPath id="clipd"><rect x="482.90" y="343.30" width="272.70" height="209.60"/></clipPath>
<g clip-path="url(#clipd)" filter="url(#vir)">
<rect x="481.90" y="342.30" width="274.70" height="211.60" fill="#000"/>
<g fill="url(#pg)"><rect x="484.4" y="369" width="269.7" height="1" opacity="0.003"/><rect x="484.4" y="370" width="269.7" height="1" opacity="0.004"/><rect x="484.4" y="371" width="269.7" height="1" opacity="0.006"/><rect x="484.4" y="372" width="269.7" height="1" opacity="0.010"/><rect x="484.4" y="373" width="269.7" height="1" opacity="0.014"/><rect x="484.4" y="374" width="269.7" height="1" opacity="0.022"/><rect x="484.4" y="375" width="269.7" height="1" opacity="0.033"/><rect x="484.4" y="376" width="269.7" height="1" opacity="0.049"/><rect x="484.4" y="377" width="269.7" height="1" opacity="0.074"/><rect x="484.4" y="378" width="269.7" height="1" opacity="0.117"/><rect x="484.4" y="379" width="269.7" height="1" opacity="0.180"/><rect x="484.4" y="380" width="269.7" height="1" opacity="0.243"/><rect x="484.4" y="381" width="269.7" height="1" opacity="0.305"/><rect x="484.4" y="382" width="269.7" height="1" opacity="0.366"/><rect x="484.4" y="383" width="269.7" height="1" opacity="0.425"/><rect x="484.4" y="384" width="269.7" height="1" opacity="0.484"/><rect x="484.4" y="385" width="269.7" height="1" opacity="0.540"/><rect x="484.4" y="386" width="269.7" height="1" opacity="0.594"/><rect x="484.4" y="387" width="269.7" height="1" opacity="0.645"/><rect x="484.4" y="388" width="269.7" height="1" opacity="0.694"/><rect x="484.4" y="389" width="269.7" height="1" opacity="0.740"/><rect x="484.4" y="390" width="269.7" height="1" opacity="0.783"/><rect x="484.4" y="391" width="269.7" height="1" opacity="0.823"/><rect x="484.4" y="392" width="269.7" height="1" opacity="0.858"/><rect x="484.4" y="393" width="269.7" height="1" opacity="0.891"/><rect x="484.4" y="394" width="269.7" height="1" opacity="0.919"/><rect x="484.4" y="395" width="269.7" height="1" opacity="0.943"/><rect x="484.4" y="396" width="269.7" height="1" opacity="0.963"/><rect x="484.4" y="397" width="269.7" height="1" opacity="0.979"/><rect x="484.4" y="398" width="269.7" height="1" opacity="0.990"/><rect x="484.4" y="399" width="269.7" height="1" opacity="0.997"/><rect x="484.4" y="400" width="269.7" height="1" opacity="1.000"/><rect x="483.6" y="401" width="271.3" height="1" opacity="0.998"/><rect x="482.7" y="402" width="273.1" height="1" opacity="0.992"/><rect x="481.8" y="403" width="274.9" height="1" opacity="0.983"/><rect x="480.9" y="404" width="276.7" height="1" opacity="0.971"/><rect x="480.0" y="405" width="278.5" height="1" opacity="0.957"/><rect x="479.1" y="406" width="280.3" height="1" opacity="0.942"/><rect x="478.2" y="407" width="282.1" height="1" opacity="0.920"/><rect x="477.3" y="408" width="283.9" height="1" opacity="0.892"/><rect x="476.4" y="409" width="285.7" height="1" opacity="0.859"/><rect x="475.5" y="410" width="287.5" height="1" opacity="0.824"/><rect x="474.6" y="411" width="289.3" height="1" opacity="0.790"/><rect x="473.7" y="412" width="291.1" height="1" opacity="0.754"/><rect x="472.8" y="413" width="292.9" height="1" opacity="0.715"/><rect x="471.9" y="414" width="294.7" height="1" opacity="0.676"/><rect x="471.0" y="415" width="296.5" height="1" opacity="0.635"/><rect x="470.1" y="416" width="298.3" height="1" opacity="0.595"/><rect x="469.2" y="417" width="300.1" height="1" opacity="0.554"/><rect x="468.3" y="418" width="301.9" height="1" opacity="0.513"/><rect x="467.4" y="419" width="303.7" height="1" opacity="0.473"/><rect x="466.5" y="420" width="305.4" height="1" opacity="0.433"/><rect x="465.6" y="421" width="307.2" height="1" opacity="0.394"/><rect x="464.7" y="422" width="309.0" height="1" opacity="0.356"/><rect x="463.8" y="423" width="310.8" height="1" opacity="0.319"/><rect x="462.9" y="424" width="312.6" height="1" opacity="0.283"/><rect x="462.0" y="425" width="314.4" height="1" opacity="0.250"/><rect x="461.1" y="426" width="316.2" height="1" opacity="0.219"/><rect x="460.2" y="427" width="318.0" height="1" opacity="0.189"/><rect x="459.3" y="428" width="319.8" height="1" opacity="0.162"/><rect x="458.4" y="429" width="321.6" height="1" opacity="0.137"/><rect x="457.5" y="430" width="323.4" height="1" opacity="0.114"/><rect x="456.7" y="431" width="325.2" height="1" opacity="0.093"/><rect x="455.8" y="432" width="327.0" height="1" opacity="0.075"/><rect x="454.9" y="433" width="328.8" height="1" opacity="0.059"/><rect x="454.0" y="434" width="330.6" height="1" opacity="0.045"/><rect x="453.1" y="435" width="332.4" height="1" opacity="0.034"/><rect x="452.2" y="436" width="334.2" height="1" opacity="0.024"/><rect x="451.3" y="437" width="336.0" height="1" opacity="0.016"/><rect x="450.4" y="438" width="337.8" height="1" opacity="0.010"/><rect x="449.5" y="439" width="339.6" height="1" opacity="0.005"/><rect x="448.6" y="440" width="341.4" height="1" opacity="0.002"/></g>
<g fill="url(#pq)"><rect x="507.1" y="402" width="224.3" height="1" opacity="0.006"/><rect x="506.8" y="403" width="224.8" height="1" opacity="0.014"/><rect x="506.6" y="404" width="225.3" height="1" opacity="0.024"/><rect x="506.3" y="405" width="225.8" height="1" opacity="0.036"/><rect x="506.1" y="406" width="226.3" height="1" opacity="0.051"/><rect x="505.8" y="407" width="226.8" height="1" opacity="0.067"/><rect x="505.6" y="408" width="227.4" height="1" opacity="0.084"/><rect x="505.3" y="409" width="227.9" height="1" opacity="0.102"/><rect x="505.1" y="410" width="228.4" height="1" opacity="0.119"/><rect x="504.8" y="411" width="228.9" height="1" opacity="0.138"/><rect x="504.6" y="412" width="229.4" height="1" opacity="0.155"/><rect x="504.3" y="413" width="229.9" height="1" opacity="0.173"/><rect x="504.1" y="414" width="230.4" height="1" opacity="0.190"/><rect x="503.8" y="415" width="230.9" height="1" opacity="0.206"/><rect x="503.5" y="416" width="231.4" height="1" opacity="0.221"/><rect x="503.3" y="417" width="231.9" height="1" opacity="0.235"/><rect x="503.0" y="418" width="232.4" height="1" opacity="0.248"/><rect x="502.8" y="419" width="232.9" height="1" opacity="0.260"/><rect x="502.5" y="420" width="233.4" height="1" opacity="0.271"/><rect x="502.3" y="421" width="234.0" height="1" opacity="0.281"/><rect x="502.0" y="422" width="234.5" height="1" opacity="0.289"/><rect x="501.8" y="423" width="235.0" height="1" opacity="0.297"/><rect x="501.5" y="424" width="235.5" height="1" opacity="0.303"/><rect x="501.3" y="425" width="236.0" height="1" opacity="0.307"/><rect x="501.0" y="426" width="236.5" height="1" opacity="0.311"/><rect x="500.8" y="427" width="237.0" height="1" opacity="0.314"/><rect x="500.5" y="428" width="237.5" height="1" opacity="0.315"/><rect x="500.2" y="429" width="238.0" height="1" opacity="0.315"/><rect x="500.0" y="430" width="238.5" height="1" opacity="0.314"/><rect x="499.7" y="431" width="239.0" height="1" opacity="0.312"/><rect x="499.5" y="432" width="239.5" height="1" opacity="0.309"/><rect x="499.2" y="433" width="240.0" height="1" opacity="0.305"/><rect x="499.0" y="434" width="240.5" height="1" opacity="0.301"/><rect x="498.7" y="435" width="241.1" height="1" opacity="0.295"/><rect x="498.5" y="436" width="241.6" height="1" opacity="0.289"/><rect x="498.2" y="437" width="242.1" height="1" opacity="0.283"/><rect x="498.0" y="438" width="242.6" height="1" opacity="0.276"/><rect x="497.7" y="439" width="243.1" height="1" opacity="0.268"/><rect x="497.5" y="440" width="243.6" height="1" opacity="0.260"/><rect x="497.2" y="441" width="244.1" height="1" opacity="0.252"/><rect x="496.9" y="442" width="244.6" height="1" opacity="0.244"/><rect x="496.7" y="443" width="245.1" height="1" opacity="0.235"/><rect x="496.4" y="444" width="245.6" height="1" opacity="0.227"/><rect x="496.2" y="445" width="246.1" height="1" opacity="0.219"/><rect x="495.9" y="446" width="246.6" height="1" opacity="0.212"/><rect x="495.7" y="447" width="247.1" height="1" opacity="0.204"/><rect x="495.4" y="448" width="247.7" height="1" opacity="0.198"/><rect x="495.2" y="449" width="248.2" height="1" opacity="0.191"/><rect x="494.9" y="450" width="248.7" height="1" opacity="0.185"/><rect x="494.7" y="451" width="249.2" height="1" opacity="0.178"/><rect x="494.4" y="452" width="249.7" height="1" opacity="0.173"/><rect x="494.2" y="453" width="250.2" height="1" opacity="0.167"/><rect x="493.9" y="454" width="250.7" height="1" opacity="0.161"/><rect x="493.6" y="455" width="251.2" height="1" opacity="0.156"/><rect x="493.4" y="456" width="251.7" height="1" opacity="0.151"/><rect x="493.1" y="457" width="252.2" height="1" opacity="0.145"/><rect x="492.9" y="458" width="252.7" height="1" opacity="0.140"/><rect x="492.6" y="459" width="253.2" height="1" opacity="0.136"/><rect x="492.4" y="460" width="253.7" height="1" opacity="0.131"/><rect x="492.1" y="461" width="254.2" height="1" opacity="0.126"/><rect x="491.9" y="462" width="254.8" height="1" opacity="0.122"/><rect x="491.6" y="463" width="255.3" height="1" opacity="0.117"/><rect x="491.4" y="464" width="255.8" height="1" opacity="0.113"/><rect x="491.1" y="465" width="256.3" height="1" opacity="0.109"/><rect x="490.9" y="466" width="256.8" height="1" opacity="0.105"/><rect x="490.6" y="467" width="257.3" height="1" opacity="0.101"/><rect x="490.4" y="468" width="257.8" height="1" opacity="0.098"/><rect x="490.1" y="469" width="258.3" height="1" opacity="0.094"/><rect x="489.8" y="470" width="258.8" height="1" opacity="0.091"/><rect x="489.6" y="471" width="259.3" height="1" opacity="0.087"/><rect x="489.3" y="472" width="259.8" height="1" opacity="0.084"/><rect x="489.1" y="473" width="260.3" height="1" opacity="0.081"/><rect x="488.8" y="474" width="260.8" height="1" opacity="0.078"/><rect x="488.6" y="475" width="261.4" height="1" opacity="0.075"/><rect x="488.3" y="476" width="261.9" height="1" opacity="0.072"/><rect x="488.1" y="477" width="262.4" height="1" opacity="0.070"/><rect x="487.8" y="478" width="262.9" height="1" opacity="0.067"/><rect x="487.6" y="479" width="263.4" height="1" opacity="0.064"/><rect x="487.3" y="480" width="263.9" height="1" opacity="0.062"/><rect x="487.1" y="481" width="264.4" height="1" opacity="0.060"/><rect x="486.8" y="482" width="264.9" height="1" opacity="0.057"/><rect x="486.5" y="483" width="265.4" height="1" opacity="0.055"/><rect x="486.3" y="484" width="265.9" height="1" opacity="0.053"/><rect x="486.0" y="485" width="266.4" height="1" opacity="0.051"/><rect x="485.8" y="486" width="266.9" height="1" opacity="0.049"/><rect x="485.5" y="487" width="267.4" height="1" opacity="0.047"/><rect x="485.3" y="488" width="267.9" height="1" opacity="0.046"/><rect x="485.0" y="489" width="268.5" height="1" opacity="0.044"/><rect x="484.8" y="490" width="269.0" height="1" opacity="0.042"/><rect x="484.5" y="491" width="269.5" height="1" opacity="0.041"/><rect x="484.3" y="492" width="270.0" height="1" opacity="0.039"/><rect x="484.0" y="493" width="270.5" height="1" opacity="0.038"/><rect x="483.8" y="494" width="271.0" height="1" opacity="0.036"/><rect x="483.5" y="495" width="271.5" height="1" opacity="0.035"/><rect x="483.2" y="496" width="272.0" height="1" opacity="0.033"/><rect x="483.0" y="497" width="272.5" height="1" opacity="0.032"/><rect x="482.7" y="498" width="273.0" height="1" opacity="0.031"/><rect x="482.5" y="499" width="273.5" height="1" opacity="0.030"/><rect x="482.2" y="500" width="274.0" height="1" opacity="0.029"/><rect x="482.0" y="501" width="274.5" height="1" opacity="0.027"/><rect x="481.7" y="502" width="275.1" height="1" opacity="0.026"/><rect x="481.5" y="503" width="275.6" height="1" opacity="0.025"/><rect x="481.2" y="504" width="276.1" height="1" opacity="0.024"/><rect x="481.0" y="505" width="276.6" height="1" opacity="0.023"/><rect x="480.7" y="506" width="277.1" height="1" opacity="0.023"/><rect x="480.5" y="507" width="277.6" height="1" opacity="0.022"/><rect x="480.2" y="508" width="278.1" height="1" opacity="0.021"/><rect x="479.9" y="509" width="278.6" height="1" opacity="0.020"/><rect x="479.7" y="510" width="279.1" height="1" opacity="0.019"/><rect x="479.4" y="511" width="279.6" height="1" opacity="0.019"/><rect x="479.2" y="512" width="280.1" height="1" opacity="0.018"/><rect x="478.9" y="513" width="280.6" height="1" opacity="0.017"/><rect x="478.7" y="514" width="281.1" height="1" opacity="0.017"/><rect x="478.4" y="515" width="281.6" height="1" opacity="0.016"/><rect x="478.2" y="516" width="282.2" height="1" opacity="0.015"/><rect x="477.9" y="517" width="282.7" height="1" opacity="0.015"/><rect x="477.7" y="518" width="283.2" height="1" opacity="0.014"/><rect x="477.4" y="519" width="283.7" height="1" opacity="0.014"/><rect x="477.2" y="520" width="284.2" height="1" opacity="0.013"/><rect x="476.9" y="521" width="284.7" height="1" opacity="0.013"/><rect x="476.7" y="522" width="285.2" height="1" opacity="0.012"/><rect x="476.4" y="523" width="285.7" height="1" opacity="0.012"/><rect x="476.1" y="524" width="286.2" height="1" opacity="0.011"/><rect x="475.9" y="525" width="286.7" height="1" opacity="0.011"/><rect x="475.6" y="526" width="287.2" height="1" opacity="0.011"/><rect x="475.4" y="527" width="287.7" height="1" opacity="0.010"/><rect x="475.1" y="528" width="288.2" height="1" opacity="0.010"/><rect x="474.9" y="529" width="288.8" height="1" opacity="0.009"/><rect x="474.6" y="530" width="289.3" height="1" opacity="0.009"/><rect x="474.4" y="531" width="289.8" height="1" opacity="0.009"/><rect x="474.1" y="532" width="290.3" height="1" opacity="0.008"/><rect x="473.9" y="533" width="290.8" height="1" opacity="0.008"/><rect x="473.6" y="534" width="291.3" height="1" opacity="0.008"/><rect x="473.4" y="535" width="291.8" height="1" opacity="0.008"/><rect x="473.1" y="536" width="292.3" height="1" opacity="0.007"/><rect x="472.8" y="537" width="292.8" height="1" opacity="0.007"/><rect x="472.6" y="538" width="293.3" height="1" opacity="0.007"/><rect x="472.3" y="539" width="293.8" height="1" opacity="0.007"/><rect x="472.1" y="540" width="294.3" height="1" opacity="0.006"/><rect x="471.8" y="541" width="294.8" height="1" opacity="0.006"/><rect x="471.6" y="542" width="295.3" height="1" opacity="0.006"/><rect x="471.3" y="543" width="295.9" height="1" opacity="0.006"/><rect x="471.1" y="544" width="296.4" height="1" opacity="0.005"/><rect x="470.8" y="545" width="296.9" height="1" opacity="0.005"/><rect x="470.6" y="546" width="297.4" height="1" opacity="0.005"/><rect x="470.3" y="547" width="297.9" height="1" opacity="0.005"/><rect x="470.1" y="548" width="298.4" height="1" opacity="0.005"/><rect x="469.8" y="549" width="298.9" height="1" opacity="0.005"/><rect x="469.5" y="550" width="299.4" height="1" opacity="0.004"/><rect x="469.3" y="551" width="299.9" height="1" opacity="0.004"/><rect x="469.0" y="552" width="300.4" height="1" opacity="0.004"/></g>
</g>
<rect x="482.90" y="343.30" width="272.70" height="209.60" fill="none" stroke="#222" stroke-width="1"/>
<path d="M482.90 552.90v3.2M516.99 552.90v3.2M551.08 552.90v3.2M585.16 552.90v3.2M619.25 552.90v3.2M653.34 552.90v3.2M687.42 552.90v3.2M721.51 552.90v3.2M755.60 552.90v3.2M482.90 343.30h-3.2M482.90 378.23h-3.2M482.90 413.17h-3.2M482.90 448.10h-3.2M482.90 483.03h-3.2M482.90 517.97h-3.2M482.90 552.90h-3.2" stroke="#222" stroke-width="1" fill="none"/>
<g font-size="13" text-anchor="middle">
<text x="482.90" y="569.60">−20</text>
<text x="516.99" y="569.60">−15</text>
<text x="551.08" y="569.60">−10</text>
<text x="585.16" y="569.60">−5</text>
<text x="619.25" y="569.60">0</text>
<text x="653.34" y="569.60">5</text>
<text x="687.42" y="569.60">10</text>
<text x="721.51" y="569.60">15</text>
<text x="755.60" y="569.60">20</text>
</g><g font-size="13" text-anchor="end">
<text x="476.20" y="348.10">5</text>
<text x="476.20" y="383.03">0</text>
<text x="476.20" y="417.97">−5</text>
<text x="476.20" y="452.90">−10</text>
<text x="476.20" y="487.83">−15</text>
<text x="476.20" y="522.77">−20</text>
<text x="476.20" y="557.70">−25</text>
</g>
<text x="619.25" y="589.00" font-size="19.5" text-anchor="middle">X [µm]</text>
<text transform="translate(446.60 448.10) rotate(-90)" font-size="19.5" text-anchor="middle">Y [µm]</text>
<rect x="772.00" y="343.30" width="12.10" height="209.60" fill="url(#cbv)" stroke="#222" stroke-width="1"/>
<path d="M784.10 343.30h3.2M784.10 385.22h3.2M784.10 427.14h3.2M784.10 469.06h3.2M784.10 510.98h3.2M784.10 552.90h3.2" stroke="#222" stroke-width="1" fill="none"/>
<g font-size="13">
<text x="790.80" y="347.60">1.0</text>
<text x="790.80" y="389.52">0.8</text>
<text x="790.80" y="431.44">0.6</text>
<text x="790.80" y="473.36">0.4</text>
<text x="790.80" y="515.28">0.2</text>
<text x="790.80" y="557.20">0.0</text>
</g>
<text transform="translate(821.20 448.10) rotate(-90)" font-size="15" text-anchor="middle">Normalized Amplitude</text>
<text x="436.00" y="322.30" font-size="26">(d)</text>
</g>
<text x="72.3" y="61.8" font-size="17.8">n=1</text>
<text x="502" y="61.8" font-size="17.8">n=1</text>
<text x="71" y="232.2" font-size="25" style="fill:#fff;stroke:#fff">n<tspan font-size="17.5" dy="5.3">o</tspan></text>
<text x="500.6" y="232.2" font-size="25" style="fill:#fff;stroke:#fff">n<tspan font-size="17.5" dy="5.3">e</tspan></text>
<text x="70.3" y="541.9" font-size="26" style="fill:#fff;stroke:#fff">TE</text>
<text x="499.6" y="541.9" font-size="26" style="fill:#fff;stroke:#fff">TM</text>
</svg></body></html>
